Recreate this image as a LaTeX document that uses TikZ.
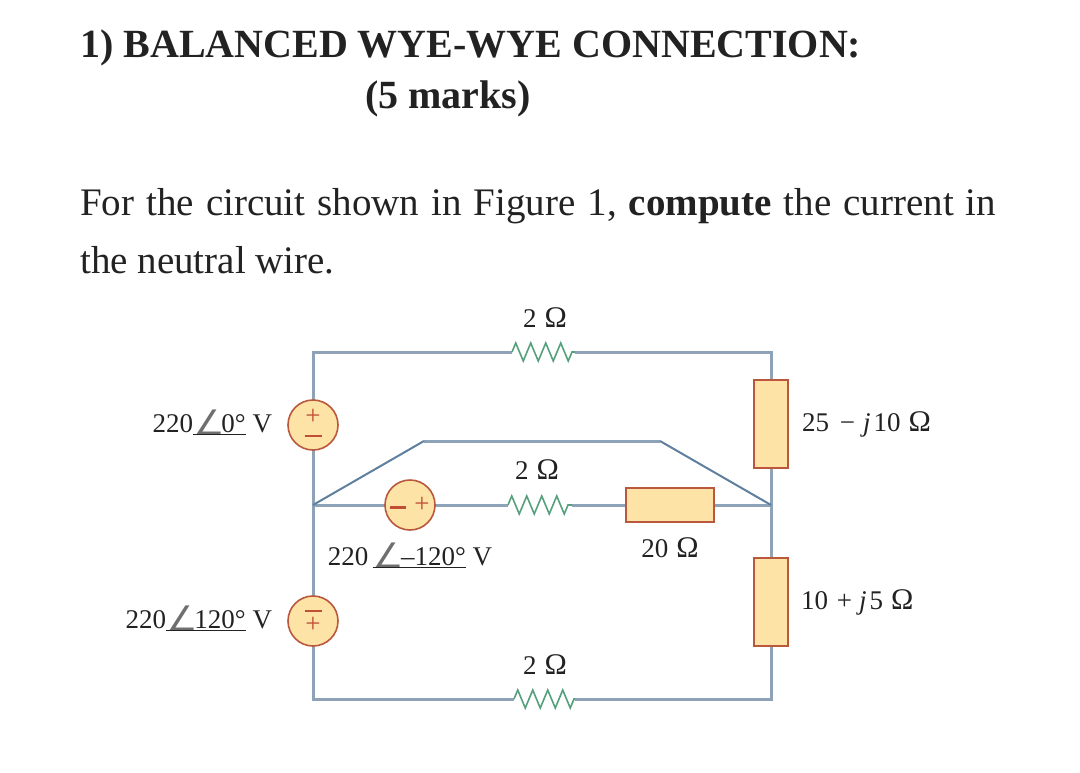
\documentclass[tikz,border=0pt]{standalone}
\usepackage{fontspec}
\setmainfont{Liberation Serif}
\newfontfamily\anglefont{DejaVu Sans}[Scale=1.3]
\usetikzlibrary{positioning,decorations.pathmorphing}
\definecolor{wirecol}{HTML}{8FA3B8}
\definecolor{slantcol}{HTML}{5F7F9F}
\definecolor{rescol}{HTML}{55A07C}
\definecolor{partfill}{HTML}{FDE4A6}
\definecolor{partdraw}{HTML}{B9583C}
\definecolor{inkcol}{HTML}{222222}
\newcommand{\phaseof}[1]{\underline{\smash{\raisebox{-.1em}{\anglefont\textcolor{inkcol!65}{∠}}}\kern-.12em#1}}
\newcommand{\ohmof}{\hspace{8pt}{\fontsize{30}{30}\selectfont Ω}}
\begin{document}
\begin{tikzpicture}[x=1pt,y=-1pt,
wire/.style={draw=wirecol, line width=3pt, line join=miter},
slant/.style={draw=slantcol, line width=2pt},
res/.style={draw=rescol, line width=1.6pt, decorate, decoration={zigzag, segment length=15pt, amplitude=9pt}},
src/.style={circle, draw=partdraw, fill=partfill, line width=1.6pt, minimum size=50pt, inner sep=0pt, align=center, text=partdraw!90!red, font=\fontsize{27}{15}\selectfont},
box/.style={rectangle, draw=partdraw, fill=partfill, line width=1.6pt, inner sep=0pt},
val/.style={text=inkcol, inner sep=0pt, font=\fontsize{27}{32}\selectfont},
head/.style={anchor=base west, inner sep=0pt, text=inkcol, font=\fontsize{40}{48}\selectfont\bfseries},
body/.style={anchor=base west, inner sep=0pt, text=inkcol, font=\fontsize{39}{47}\selectfont},
]
\useasboundingbox (0,0) rectangle (1080,772);

%Text
\node[head] (title) at (80,57)   {1) BALANCED WYE-WYE CONNECTION:};
\node[head] (marks) at (365,108) {(5 marks)};
\node[body] (line1) at (80,215)  {\spaceskip=12pt For the circuit shown in Figure 1, \textbf{compute} the current in};
\node[body] (line2) at (80,273)  {the neutral wire.};

%Corners
\coordinate (tl) at (313,352);
\coordinate (tr) at (771,352);
\coordinate (bl) at (313,699);
\coordinate (br) at (771,699);
\coordinate (ml) at (313,505);
\coordinate (mr) at (771,505);
\coordinate (sl) at (424,441);
\coordinate (sr) at (660,441);

%Resistor ends
\coordinate (r1a) at (512,352);
\coordinate (r1b) at (575,352);
\coordinate (r2a) at (508,505);
\coordinate (r2b) at (572,505);
\coordinate (r3a) at (514,699);
\coordinate (r3b) at (575,699);

%Lines
\draw[wire] (tr) -- (tl) -- (ml) -- (bl) -- (br) -- cycle;
\draw[wire] (ml) -- (mr);
\draw[wire] (sl) -- (sr);
\draw[slant] (ml) -- (sl);
\draw[slant] (sr) -- (mr);

%Resistors
\fill[white] (r1a |- 0,345) rectangle (r1b |- 0,359);
\fill[white] (r2a |- 0,498) rectangle (r2b |- 0,512);
\fill[white] (r3a |- 0,692) rectangle (r3b |- 0,706);
\draw[res] (r1a) -- (r1b);
\draw[res] (r2a) -- (r2b);
\draw[res] (r3a) -- (r3b);

%Nodes
\node[src] (srcA) at (313,425) {+\\[1pt]\rule[.3ex]{17pt}{2pt}};
\node[src] (srcB) at (313,621) {\rule[.3ex]{17pt}{2pt}\\[1pt]+};
\node[src] (srcC) at (410,505) {\rule[.3ex]{16pt}{3pt}\hspace{8pt}+};
\node[box, minimum width=34pt, minimum height=88pt] (zA) at (771,424) {};
\node[box, minimum width=34pt, minimum height=88pt] (zB) at (771,602) {};
\node[box, minimum width=88pt, minimum height=34pt] (zC) at (670,505) {};

%Labels
\node[val] (lr1) at (545,318) {2\ohmof};
\node[val] (lr2) at (537,470) {2\ohmof};
\node[val] (lr3) at (545,665) {2\ohmof};
\node[val] (lzC) [below=15pt of zC] {20\ohmof};
\node[val] (lzA) [right=13pt of zA] {25\hspace{11pt}−\hspace{8pt}\textit{j}\hspace{3pt}10\ohmof};
\node[val] (lzB) [right=12pt of zB] {10\hspace{9pt}+\hspace{7pt}\textit{j}\hspace{3pt}5\ohmof};
\node[val] (lsA) [left=15pt of srcA] {220\phaseof{0°} V};
\node[val] (lsB) [left=15pt of srcB] {220\phaseof{120°} V};
\node[val] (lsC) at (410,558) {220\,\phaseof{–120°} V};
\end{tikzpicture}
\end{document}
